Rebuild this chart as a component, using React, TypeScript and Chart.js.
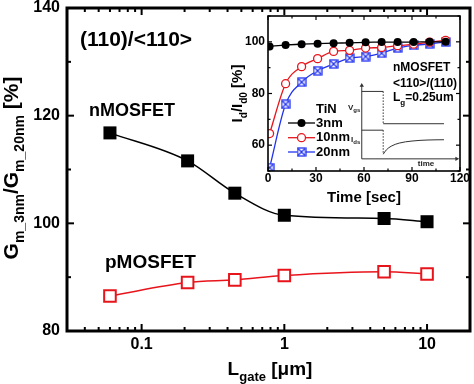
import React, { useEffect, useRef } from "react";
import { Chart, registerables } from "chart.js";
Chart.register(...registerables);

// ---- main chart data ----
const gateLengths = [0.06, 0.21, 0.45, 1, 5, 10];
const nmosRatio = [116.8, 111.6, 105.6, 101.5, 100.9, 100.3];
const pmosRatio = [86.5, 89.0, 89.5, 90.3, 91.0, 90.6];
const mainXLabels = [0.1, 1, 10];
const mainYLabels = [80, 100, 120, 140];

// ---- inset data ----
const timeSec = [1, 11, 21, 31, 41, 51, 61, 71, 81, 91, 101, 111];
const tin3nm = [98.2, 98.8, 99.1, 99.3, 99.5, 99.6, 99.8, 99.9, 99.9, 99.9, 100, 100];
const tin10nm = [64.5, 83.8, 90.4, 93.5, 96.3, 96.7, 97.6, 97.8, 98.5, 99.1, 99.9, 100.6];
const tin20nm = [51.3, 75.8, 84.4, 88.8, 91.4, 93.7, 94.3, 95.6, 97.6, 98.6, 99.2, 99.9];
const insetXLabels = [0, 30, 60, 90, 120];
const insetYLabels = [60, 80, 100];

// ---- schematic waveform (inset units: sec, %) ----
const schemAxisV = [{ x: 58.6, y: 54.7 }, { x: 58.6, y: 83.1 }];
const schemAxisH = [{ x: 58.6, y: 54.7 }, { x: 117.9, y: 54.7 }];
const vgsHigh = [{ x: 58.6, y: 80.8 }, { x: 72, y: 80.8 }];
const vgsDrop = [{ x: 72, y: 80.8 }, { x: 72, y: 68.3 }];
const vgsLow = [{ x: 72, y: 68.3 }, { x: 110, y: 68.3 }];
const idsHigh = [{ x: 58.6, y: 65.8 }, { x: 72, y: 65.8 }];
const idsDrop = [{ x: 72, y: 65.8 }, { x: 72, y: 56.5 }];
const idsRecover = [
  { x: 72, y: 56.5 }, { x: 74, y: 58.2 }, { x: 77, y: 59.6 }, { x: 82, y: 60.8 },
  { x: 90, y: 61.6 }, { x: 100, y: 62.0 }, { x: 110, y: 62.1 },
];

const FONT = "'Liberation Sans', Arial, sans-serif";
const RED = "#e8141b";
const BLUE = "#2233ee";

type Part = { t: string; sub?: boolean };

function drawRich(ctx: CanvasRenderingContext2D, parts: Part[], x: number, y: number, size: number, subSize: number, align: "left" | "center") {
  const widths = parts.map((p) => {
    ctx.font = `bold ${p.sub ? subSize : size}px ${FONT}`;
    return ctx.measureText(p.t).width;
  });
  const total = widths.reduce((a, b) => a + b, 0);
  let cx = align === "center" ? x - total / 2 : x;
  ctx.textBaseline = "alphabetic";
  ctx.textAlign = "left";
  parts.forEach((p, i) => {
    ctx.font = `bold ${p.sub ? subSize : size}px ${FONT}`;
    ctx.fillText(p.t, cx, y + (p.sub ? size * 0.3 : 0));
    cx += widths[i];
  });
}

function buildLogTicks(min: number, max: number) {
  const out: number[] = [];
  for (let e = -3; e <= 3; e++) {
    for (let s = 1; s <= 9; s++) {
      const v = parseFloat((s * Math.pow(10, e)).toPrecision(6));
      if (v >= min - 1e-9 && v <= max + 1e-9) out.push(v);
    }
  }
  return out;
}

const isIn = (arr: number[], v: number) => arr.some((a) => Math.abs(a - v) <= Math.abs(a) * 1e-6 + 1e-9);

function line(ctx: CanvasRenderingContext2D, x1: number, y1: number, x2: number, y2: number) {
  ctx.beginPath();
  ctx.moveTo(x1, y1);
  ctx.lineTo(x2, y2);
  ctx.stroke();
}

function zeroPad(s: any) {
  s.paddingLeft = 0;
  s.paddingRight = 0;
  s.paddingTop = 0;
  s.paddingBottom = 0;
}

function makeBoxX() {
  const c = document.createElement("canvas");
  c.width = 10;
  c.height = 10;
  const g = c.getContext("2d")!;
  g.fillStyle = "#fff";
  g.fillRect(1, 1, 8, 8);
  g.strokeStyle = BLUE;
  g.lineWidth = 1.3;
  g.strokeRect(1, 1, 8, 8);
  g.beginPath();
  g.moveTo(1.5, 1.5);
  g.lineTo(8.5, 8.5);
  g.moveTo(8.5, 1.5);
  g.lineTo(1.5, 8.5);
  g.stroke();
  return c;
}

export default function App() {
  const mainRef = useRef<HTMLCanvasElement>(null);
  const insetRef = useRef<HTMLCanvasElement>(null);

  useEffect(() => {
    const mainTicksX = buildLogTicks(0.03, 20);
    const mainTicksY = [80, 90, 100, 110, 120, 130, 140];

    const mainDecor = {
      id: "mainDecor",
      afterDraw(chart: any) {
        const { ctx, chartArea: a, scales } = chart;
        ctx.save();
        ctx.strokeStyle = "#000";
        ctx.lineWidth = 2;
        mainTicksX.forEach((v) => {
          const px = scales.x.getPixelForValue(v);
          const len = isIn(mainXLabels, v) ? 7 : 4;
          line(ctx, px, a.bottom, px, a.bottom - len);
          line(ctx, px, a.top, px, a.top + len);
        });
        mainTicksY.forEach((v) => {
          const py = scales.y.getPixelForValue(v);
          const len = isIn(mainYLabels, v) ? 7 : 4;
          line(ctx, a.left, py, a.left + len, py);
          line(ctx, a.right, py, a.right - len, py);
        });
        ctx.lineWidth = 3;
        ctx.strokeRect(a.left, a.top, a.right - a.left, a.bottom - a.top);

        ctx.fillStyle = "#000";
        // x tick labels
        ctx.textAlign = "center";
        ctx.textBaseline = "middle";
        ctx.font = `bold 16px ${FONT}`;
        mainXLabels.forEach((v) => {
          ctx.fillText(String(v), scales.x.getPixelForValue(v), a.bottom + 14);
        });

        ctx.textBaseline = "middle";
        ctx.textAlign = "left";
        ctx.font = `bold 21px ${FONT}`;
        ctx.fillText("(110)/<110>", 80, 40);
        ctx.font = `bold 18px ${FONT}`;
        ctx.fillText("nMOSFET", 89, 111);
        ctx.font = `bold 19px ${FONT}`;
        ctx.fillText("pMOSFET", 105, 263);

        // x title
        drawRich(ctx, [{ t: "L" }, { t: "gate", sub: true }, { t: " [\u03bcm]" }], 270, 375, 19, 13, "center");
        // y title
        ctx.save();
        ctx.translate(18, 168);
        ctx.rotate(-Math.PI / 2);
        drawRich(
          ctx,
          [{ t: "G" }, { t: "m_3nm", sub: true }, { t: "/G" }, { t: "m_20nm", sub: true }, { t: " [%]" }],
          0, 0, 21, 14, "center"
        );
        ctx.restore();
        ctx.restore();
      },
    };

    const main = new Chart(mainRef.current!, {
      type: "line",
      data: {
        datasets: [
          {
            label: "nMOSFET",
            data: gateLengths.map((x, i) => ({ x, y: nmosRatio[i] })),
            borderColor: "#000",
            backgroundColor: "#000",
            borderWidth: 1.5,
            pointStyle: "rect",
            pointRadius: 9.2,
            pointBorderWidth: 0,
            tension: 0.4,
            cubicInterpolationMode: "monotone",
          },
          {
            label: "pMOSFET",
            data: gateLengths.map((x, i) => ({ x, y: pmosRatio[i] })),
            borderColor: RED,
            backgroundColor: "#fff",
            borderWidth: 1.5,
            pointStyle: "rect",
            pointRadius: 8.2,
            pointBorderWidth: 2,
            pointBorderColor: RED,
            tension: 0.3,
            cubicInterpolationMode: "monotone",
          },
        ],
      },
      options: {
        animation: false,
        responsive: false,
        layout: { autoPadding: false, padding: { top: 8, right: 4, left: 0, bottom: 0 } },
        plugins: { legend: { display: false }, tooltip: { enabled: false } },
        scales: {
          x: {
            type: "logarithmic",
            min: 0.03,
            max: 20,
            grid: { display: false, drawTicks: false },
            border: { display: false },
            afterBuildTicks: (s: any) => {
              s.ticks = mainTicksX.map((v) => ({ value: v }));
            },
            afterFit: (s: any) => {
              s.height = 53;
              zeroPad(s);
            },
            ticks: { display: false },
          },
          y: {
            type: "linear",
            min: 80,
            max: 140,
            grid: { display: false, drawTicks: false },
            border: { display: false },
            afterBuildTicks: (s: any) => {
              s.ticks = mainTicksY.map((v) => ({ value: v }));
            },
            afterFit: (s: any) => {
              s.width = 67;
              zeroPad(s);
            },
            ticks: {
              autoSkip: false,
              padding: 7,
              color: "#000",
              font: { family: FONT, size: 16, weight: "bold" },
              callback: (v: any) => (isIn(mainYLabels, Number(v)) ? String(v) : ""),
            },
          },
        },
      },
      plugins: [mainDecor],
    } as any);

    // ---------- inset ----------
    const insetTicksX = [0, 15, 30, 45, 60, 75, 90, 105, 120];
    const insetTicksY = [50, 60, 70, 80, 90, 100, 110];
    const boxX = makeBoxX();

    const insetDecor = {
      id: "insetDecor",
      beforeDraw(chart: any) {
        const { ctx, chartArea: a } = chart;
        ctx.save();
        ctx.fillStyle = "#fff";
        ctx.fillRect(a.left, a.top, a.right - a.left, a.bottom - a.top);
        ctx.restore();
      },
      afterDraw(chart: any) {
        const { ctx, chartArea: a, scales } = chart;
        ctx.save();
        ctx.strokeStyle = "#000";
        ctx.lineWidth = 1.2;
        insetTicksX.forEach((v) => {
          const px = scales.x.getPixelForValue(v);
          const len = isIn(insetXLabels, v) ? 4 : 2.5;
          line(ctx, px, a.bottom, px, a.bottom - len);
          line(ctx, px, a.top, px, a.top + len);
        });
        insetTicksY.forEach((v) => {
          const py = scales.y.getPixelForValue(v);
          const len = isIn(insetYLabels, v) ? 4 : 2.5;
          line(ctx, a.left, py, a.left + len, py);
          line(ctx, a.right, py, a.right - len, py);
        });
        ctx.lineWidth = 1.6;
        ctx.strokeRect(a.left, a.top, a.right - a.left, a.bottom - a.top);

        ctx.fillStyle = "#000";
        // x tick labels
        ctx.textAlign = "center";
        ctx.textBaseline = "middle";
        ctx.font = `bold 12px ${FONT}`;
        insetXLabels.forEach((v) => {
          ctx.fillText(String(v), scales.x.getPixelForValue(v), a.bottom + 8);
        });
        // titles
        ctx.font = `bold 15px ${FONT}`;
        ctx.fillText("Time [sec]", (a.left + a.right) / 2, 186);
        ctx.save();
        ctx.translate(14, (a.top + a.bottom) / 2);
        ctx.rotate(-Math.PI / 2);
        drawRich(ctx, [{ t: "I" }, { t: "d", sub: true }, { t: "/I" }, { t: "d0", sub: true }, { t: " [%]" }], 0, 0, 15, 10, "center");
        ctx.restore();

        // annotation
        ctx.textAlign = "left";
        ctx.textBaseline = "middle";
        ctx.font = `bold 12px ${FONT}`;
        ctx.fillText("nMOSFET", 165, 56);
        ctx.fillText("<110>/(110)", 165, 72);
        drawRich(ctx, [{ t: "L" }, { t: "g", sub: true }, { t: "=0.25um" }], 165, 89, 12, 8, "left");

        // legend
        ctx.textBaseline = "middle";
        ctx.font = `bold 13px ${FONT}`;
        ctx.fillText("TiN", 88, 97);
        const rows = [
          { label: "3nm", color: "#000", y: 111 },
          { label: "10nm", color: RED, y: 125.7 },
          { label: "20nm", color: BLUE, y: 140 },
        ];
        rows.forEach((r, i) => {
          ctx.strokeStyle = r.color;
          ctx.lineWidth = 1.3;
          line(ctx, 60, r.y, 87, r.y);
          const mx = 73.5;
          if (i === 0) {
            ctx.fillStyle = "#000";
            ctx.beginPath();
            ctx.arc(mx, r.y, 4, 0, Math.PI * 2);
            ctx.fill();
          } else if (i === 1) {
            ctx.fillStyle = "#fff";
            ctx.beginPath();
            ctx.arc(mx, r.y, 4, 0, Math.PI * 2);
            ctx.fill();
            ctx.stroke();
          } else {
            ctx.drawImage(boxX, mx - 5, r.y - 5);
          }
          ctx.fillStyle = "#000";
          ctx.font = `bold 13px ${FONT}`;
          ctx.fillText(r.label, 88, r.y);
        });

        // schematic labels
        ctx.fillStyle = "#222";
        drawRich(ctx, [{ t: "V" }, { t: "gs", sub: true }], 120, 98, 8, 6, "left");
        drawRich(ctx, [{ t: "I" }, { t: "ds", sub: true }], 123, 130, 8, 6, "left");
        ctx.font = `bold 8px ${FONT}`;
        ctx.textAlign = "center";
        ctx.fillText("time", 198, 154);
        ctx.restore();
      },
    };

    const schem = (data: any[], opts: any = {}) => ({
      data,
      borderColor: "#333",
      borderWidth: 1,
      pointRadius: 0,
      tension: 0,
      ...opts,
    });

    const inset = new Chart(insetRef.current!, {
      type: "line",
      data: {
        datasets: [
          schem(schemAxisV, { pointRadius: [0, 2.5], pointStyle: "triangle", pointBackgroundColor: "#333", pointBorderWidth: 0 }),
          schem(schemAxisH, { pointRadius: [0, 2.5], pointStyle: "triangle", rotation: 90, pointBackgroundColor: "#333", pointBorderWidth: 0 }),
          schem(vgsHigh),
          schem(vgsDrop, { borderDash: [1.5, 1.5] }),
          schem(vgsLow),
          schem(idsHigh),
          schem(idsDrop, { borderDash: [1.5, 1.5] }),
          schem(idsRecover, { tension: 0.4, cubicInterpolationMode: "monotone" }),
          {
            label: "3nm",
            data: timeSec.map((x, i) => ({ x, y: tin3nm[i] })),
            borderColor: "#000",
            backgroundColor: "#000",
            borderWidth: 1.3,
            pointRadius: 4,
            pointBorderWidth: 0,
            tension: 0.3,
          },
          {
            label: "10nm",
            data: timeSec.map((x, i) => ({ x, y: tin10nm[i] })),
            borderColor: RED,
            backgroundColor: "#fff",
            borderWidth: 1.3,
            pointRadius: 4,
            pointBorderWidth: 1.3,
            pointBorderColor: RED,
            tension: 0.3,
            cubicInterpolationMode: "monotone",
          },
          {
            label: "20nm",
            data: timeSec.map((x, i) => ({ x, y: tin20nm[i] })),
            borderColor: BLUE,
            backgroundColor: "#fff",
            borderWidth: 1.3,
            pointStyle: boxX,
            tension: 0.3,
            cubicInterpolationMode: "monotone",
          },
        ],
      },
      options: {
        animation: false,
        responsive: false,
        layout: { autoPadding: false, padding: { top: 4, right: 14, left: 0, bottom: 0 } },
        plugins: { legend: { display: false }, tooltip: { enabled: false } },
        scales: {
          x: {
            type: "linear",
            min: 0,
            max: 120,
            grid: { display: false, drawTicks: false },
            border: { display: false },
            afterBuildTicks: (s: any) => {
              s.ticks = insetTicksX.map((v) => ({ value: v }));
            },
            afterFit: (s: any) => {
              s.height = 37;
              zeroPad(s);
            },
            ticks: { display: false },
          },
          y: {
            type: "linear",
            min: 50,
            max: 110,
            grid: { display: false, drawTicks: false },
            border: { display: false },
            afterBuildTicks: (s: any) => {
              s.ticks = insetTicksY.map((v) => ({ value: v }));
            },
            afterFit: (s: any) => {
              s.width = 40;
              zeroPad(s);
            },
            ticks: {
              autoSkip: false,
              padding: 3,
              color: "#000",
              font: { family: FONT, size: 12, weight: "bold" },
              callback: (v: any) => (isIn(insetYLabels, Number(v)) ? String(v) : ""),
            },
          },
        },
      },
      plugins: [insetDecor],
    } as any);

    return () => {
      main.destroy();
      inset.destroy();
    };
  }, []);

  return (
    <div style={{ position: "absolute", left: 0, top: 0, width: 474, height: 384, background: "#fff" }}>
      <canvas ref={mainRef} width={474} height={384} style={{ position: "absolute", left: 0, top: 0 }} />
      <canvas ref={insetRef} width={246} height={196} style={{ position: "absolute", left: 228, top: 12 }} />
    </div>
  );
}
